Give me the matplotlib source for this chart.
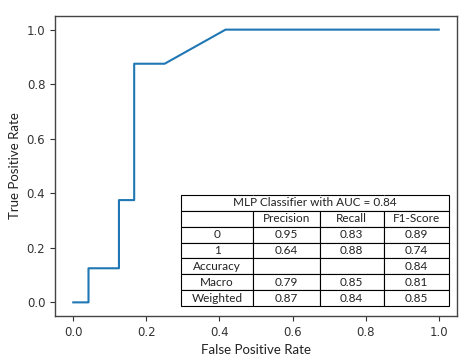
import matplotlib
matplotlib.use("Agg")
import matplotlib.pyplot as plt

fpr = [0.0, 1/24, 1/24, 3/24, 3/24, 4/24, 4/24, 6/24, 10/24, 1.0]
tpr = [0.0, 0.0, 0.125, 0.125, 0.375, 0.375, 0.875, 0.875, 1.0, 1.0]

title_text = "MLP Classifier with AUC = 0.84"
col_labels = ["", "Precision", "Recall", "F1-Score"]
row_labels = ["0", "1", "Accuracy", "Macro", "Weighted"]
precision = ["0.95", "0.64", "", "0.79", "0.87"]
recall = ["0.83", "0.88", "", "0.85", "0.84"]
f1 = ["0.89", "0.74", "0.84", "0.81", "0.85"]

fig = plt.figure(figsize=(4.74, 3.63), dpi=100)
ax = fig.add_axes([55/474, 1-316/363, 402/474, 300/363])
ax.plot(fpr, tpr, color="#1f77b4", lw=1.5)
ax.set_xlim(-0.05, 1.05)
ax.set_ylim(-0.05, 1.05)
ax.set_xticks([0, 0.2, 0.4, 0.6, 0.8, 1.0])
ax.set_yticks([0, 0.2, 0.4, 0.6, 0.8, 1.0])
ax.tick_params(labelsize=8.5, colors="#333333")
for s in ax.spines.values():
    s.set_color("#444444")
    s.set_linewidth(1.0)
lab_font = dict(family=["Lato", "DejaVu Sans"], size=9.5, color="#222222")
ax.set_xlabel("False Positive Rate", **lab_font)
ax.set_ylabel("True Positive Rate", **lab_font)

cell_text = [["", "", "", ""], col_labels]
for i, r in enumerate(row_labels):
    cell_text.append([r, precision[i], recall[i], f1[i]])

x0 = (181-55)/402
x1 = (449-55)/402
y0 = (316-306)/300
y1 = (316-195)/300
tot = 72 + 66 + 64 + 65
widths = [72/tot, 66/tot, 64/tot, 65/tot]
tbl = ax.table(cellText=cell_text, cellLoc="center", colWidths=widths,
               bbox=[x0, y0, x1-x0, y1-y0])
tbl.auto_set_font_size(False)
for (r, c), cell in tbl.get_celld().items():
    cell.set_linewidth(0.8)
    cell.get_text().set_fontsize(8.5)
    cell.get_text().set_family(["Lato", "DejaVu Sans"])
    cell.get_text().set_color("#222222")
    cell.PAD = 0.02
    if r == 0:
        if c == 0:
            cell.visible_edges = "BTL"
        elif c == 3:
            cell.visible_edges = "BTR"
        else:
            cell.visible_edges = "BT"
ax.text((x0+x1)/2, y1 - (y1-y0)/14, title_text, transform=ax.transAxes,
        ha="center", va="center", fontsize=8.5, color="#222222",
        family=["Lato", "DejaVu Sans"])

fig.savefig("out.png", dpi=100)
